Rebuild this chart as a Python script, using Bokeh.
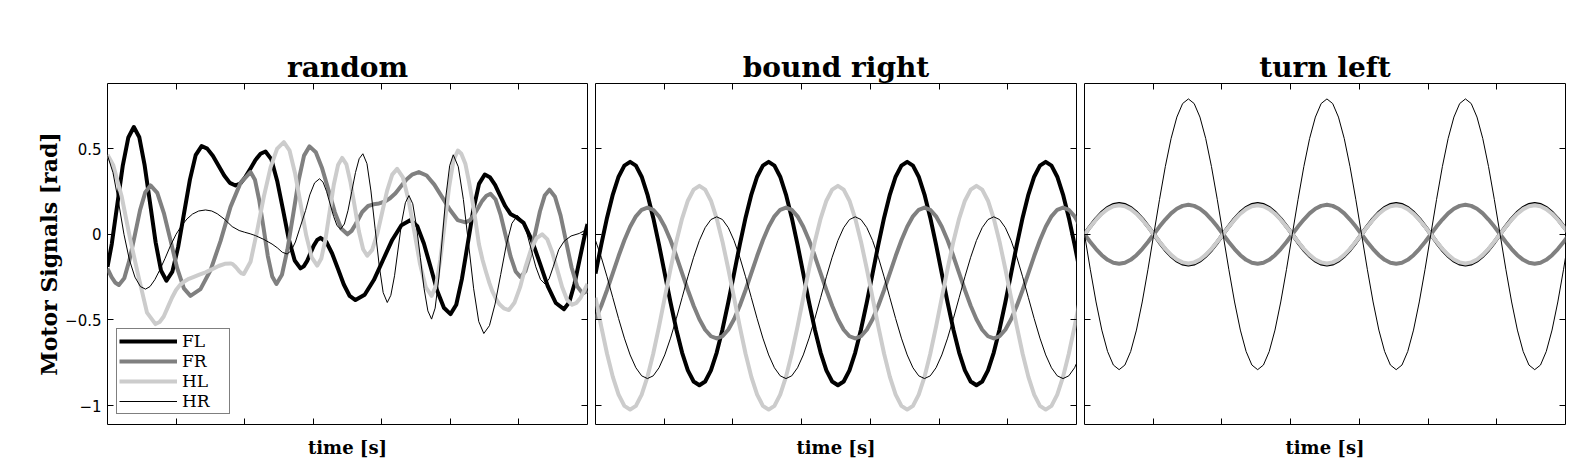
from bokeh.plotting import figure
from bokeh.models import Range1d, LinearAxis, FixedTicker, CustomJSTickFormatter, Legend, LegendItem
from bokeh.layouts import row
from bokeh.embed import file_html
from bokeh.resources import INLINE

# ---------------- data ----------------
NAMES = ["FL", "FR", "HL", "HR"]
TITLES = ["random", "bound right", "turn left"]
X_TICKS = [0.5, 1.0, 1.5, 2.0, 2.5, 3.0]
Y_TICKS = [-1, -0.5, 0, 0.5]
X_LABEL = "time [s]"
Y_LABEL = "Motor Signals [rad]"

# panel "random": each series has its own sample times
RND_FL_T = [0, 0.031, 0.071, 0.111, 0.152, 0.192,
            0.232, 0.271, 0.311, 0.351, 0.390, 0.43,
            0.473, 0.515, 0.558, 0.601, 0.643, 0.686,
            0.727, 0.768, 0.810, 0.851, 0.892, 0.933,
            0.970, 1.006, 1.043, 1.079, 1.116, 1.152,
            1.195, 1.237, 1.280, 1.322, 1.365, 1.407,
            1.431, 1.456, 1.480, 1.504, 1.529, 1.553,
            1.596, 1.638, 1.681, 1.723, 1.766, 1.808,
            1.875, 1.942, 2.009, 2.076, 2.143, 2.21,
            2.259, 2.307, 2.356, 2.404, 2.453, 2.501,
            2.543, 2.584, 2.626, 2.668, 2.709, 2.751,
            2.788, 2.826, 2.863, 2.900, 2.938, 2.975,
            3.034, 3.093, 3.152, 3.210, 3.269, 3.328,
            3.367, 3.405, 3.444, 3.483, 3.5]
RND_FL_V = [-0.19, -0.057, 0.171, 0.399, 0.565, 0.626,
            0.566, 0.402, 0.178, -0.047, -0.211, -0.271,
            -0.218, -0.075, 0.122, 0.319, 0.462, 0.515,
            0.500, 0.458, 0.400, 0.343, 0.300, 0.285,
            0.298, 0.335, 0.384, 0.434, 0.470, 0.483,
            0.437, 0.313, 0.142, -0.029, -0.153, -0.199,
            -0.187, -0.155, -0.110, -0.066, -0.033, -0.021,
            -0.045, -0.112, -0.203, -0.293, -0.360, -0.384,
            -0.353, -0.267, -0.150, -0.033, 0.053, 0.084,
            0.047, -0.054, -0.191, -0.329, -0.429, -0.466,
            -0.411, -0.262, -0.059, 0.145, 0.294, 0.349,
            0.333, 0.288, 0.226, 0.165, 0.119, 0.103,
            0.067, -0.032, -0.167, -0.302, -0.401, -0.437,
            -0.397, -0.290, -0.142, 0.006, 0.06]

RND_FR_T = [0, 0.03, 0.058, 0.083,
            0.122, 0.160, 0.199, 0.237, 0.276, 0.314,
            0.363, 0.411, 0.460, 0.508, 0.557, 0.605,
            0.678, 0.751, 0.824, 0.897, 0.970, 1.043,
            1.075, 1.106, 1.138, 1.169, 1.201, 1.232,
            1.272, 1.312, 1.353, 1.393, 1.433, 1.473,
            1.519, 1.565, 1.612, 1.658, 1.704, 1.75,
            1.78, 1.81, 1.857, 1.90, 1.94, 1.98, 2.02, 2.06, 2.10, 2.14, 2.18, 2.22, 2.27,
            2.327, 2.383, 2.44, 2.497, 2.553, 2.61,
            2.641, 2.671, 2.702, 2.732, 2.763, 2.793,
            2.830, 2.866, 2.903, 2.939, 2.976, 3.012,
            3.047, 3.082, 3.118, 3.153, 3.188, 3.223,
            3.263, 3.304, 3.344, 3.384, 3.425, 3.465,
            3.5]
RND_FR_V = [-0.20, -0.25, -0.283, -0.296,
            -0.257, -0.151, -0.006, 0.140, 0.246, 0.285,
            0.242, 0.124, -0.037, -0.198, -0.316, -0.359,
            -0.32, -0.21, -0.04, 0.16, 0.30, 0.363,
            0.319, 0.200, 0.037, -0.127, -0.246, -0.29,
            -0.236, -0.089, 0.112, 0.312, 0.459, 0.513,
            0.479, 0.385, 0.257, 0.128, 0.034, 0.0,
            0.02, 0.06, 0.13, 0.165, 0.175, 0.18, 0.19, 0.21, 0.24, 0.28, 0.32, 0.348, 0.363,
            0.343, 0.290, 0.217, 0.143, 0.083, 0.07,
            0.081, 0.112, 0.153, 0.195, 0.225, 0.236,
            0.203, 0.115, -0.007, -0.129, -0.217, -0.25,
            -0.216, -0.123, 0.005, 0.133, 0.226, 0.26,
            0.219, 0.109, -0.043, -0.194, -0.304, -0.345,
            -0.33]

RND_HL_T = [0, 0.042, 0.103, 0.165, 0.227, 0.288, 0.35,
            0.38, 0.41, 0.44, 0.47, 0.50, 0.53, 0.56, 0.593, 0.63, 0.67, 0.715, 0.76, 0.81, 0.855, 0.897,
            0.913, 0.929, 0.946, 0.962, 0.978, 0.994,
            1.043, 1.091, 1.14, 1.189, 1.237, 1.286,
            1.327, 1.367, 1.408, 1.448, 1.489, 1.529,
            1.559, 1.590, 1.620, 1.650, 1.681, 1.711,
            1.742, 1.772, 1.803, 1.833, 1.864, 1.894,
            1.930, 1.967, 2.003, 2.039, 2.076, 2.112,
            2.154, 2.196, 2.238, 2.279, 2.321, 2.363,
            2.395, 2.427, 2.459, 2.491, 2.523, 2.555,
            2.58, 2.61, 2.635, 2.66, 2.685, 2.708, 2.735, 2.76, 2.785, 2.805, 2.835, 2.86, 2.89, 2.927,
            2.967, 3.008, 3.048, 3.088, 3.129, 3.169,
            3.206, 3.242, 3.279, 3.315, 3.352, 3.388,
            3.42, 3.45, 3.475, 3.5]
RND_HL_V = [0.465, 0.403, 0.222, -0.027, -0.25, -0.457, -0.524,
            -0.512, -0.48, -0.425, -0.37, -0.325, -0.295, -0.275, -0.26, -0.248, -0.235, -0.222, -0.205, -0.185, -0.172, -0.17,
            -0.174, -0.186, -0.201, -0.217, -0.228, -0.232,
            -0.16, 0.02, 0.22, 0.39, 0.50, 0.538,
            0.490, 0.358, 0.178, -0.003, -0.135, -0.183,
            -0.141, -0.026, 0.132, 0.289, 0.404, 0.446,
            0.408, 0.303, 0.160, 0.018, -0.087, -0.125,
            -0.091, 0.002, 0.129, 0.255, 0.348, 0.382,
            0.332, 0.197, 0.012, -0.174, -0.309, -0.359,
            -0.302, -0.147, 0.065, 0.277, 0.432, 0.489,
            0.47, 0.41, 0.31, 0.20, 0.07, -0.057, -0.15, -0.22, -0.285, -0.33, -0.38, -0.41, -0.432, -0.442,
            -0.40, -0.31, -0.19, -0.09, -0.022, 0.0,
            -0.028, -0.103, -0.206, -0.308, -0.383, -0.411,
            -0.40, -0.37, -0.33, -0.29]

RND_HR_T = [0, 0.04, 0.08, 0.12, 0.16, 0.2, 0.24, 0.277,
            0.31, 0.345, 0.38, 0.42, 0.46, 0.50, 0.54, 0.58, 0.62, 0.665, 0.715,
            0.76, 0.80, 0.85, 0.909, 0.96, 1.0, 1.04, 1.08, 1.14, 1.2, 1.24, 1.275, 1.31,
            1.34, 1.37, 1.40, 1.444, 1.475, 1.51, 1.546,
            1.572, 1.597, 1.623, 1.649, 1.674, 1.70,
            1.727, 1.754, 1.781, 1.808, 1.835, 1.862,
            1.892, 1.921, 1.951, 1.981, 2.010, 2.04,
            2.066, 2.093, 2.119, 2.145, 2.172, 2.198,
            2.226, 2.253, 2.281, 2.308, 2.336, 2.363,
            2.389, 2.416, 2.442, 2.468, 2.495, 2.521,
            2.558, 2.595, 2.633, 2.670, 2.707, 2.744,
            2.785, 2.826, 2.867, 2.908, 2.949, 2.99,
            3.023, 3.057, 3.09, 3.123, 3.157, 3.19,
            3.22, 3.25, 3.29, 3.33, 3.38, 3.44, 3.5]
RND_HR_V = [0.46, 0.36, 0.19, 0.0, -0.15, -0.25, -0.305, -0.32,
            -0.305, -0.265, -0.21, -0.14, -0.065, 0.0, 0.05, 0.09, 0.118, 0.136, 0.142,
            0.136, 0.12, 0.09, 0.045, 0.022, 0.012, 0.003, -0.008, -0.03, -0.057, -0.08, -0.105, -0.115,
            -0.095, -0.045, 0.03, 0.138, 0.23, 0.30, 0.324,
            0.304, 0.251, 0.177, 0.104, 0.050, 0.03,
            0.060, 0.14, 0.25, 0.36, 0.441, 0.47,
            0.412, 0.253, 0.036, -0.181, -0.340, -0.398,
            -0.356, -0.242, -0.086, 0.070, 0.184, 0.226,
            0.178, 0.046, -0.135, -0.315, -0.447, -0.495,
            -0.431, -0.255, -0.016, 0.224, 0.400, 0.464,
            0.394, 0.203, -0.058, -0.318, -0.509, -0.579,
            -0.533, -0.407, -0.235, -0.062, 0.064, 0.11,
            0.083, 0.01, -0.09, -0.19, -0.263, -0.29,
            -0.26, -0.19, -0.09, -0.04, -0.01, 0.005, 0.03]

# periodic panels: common sample times
T_PER = [0.0, 0.042, 0.084, 0.126, 0.168, 0.21, 0.252, 0.294, 0.336, 0.378, 0.42, 0.462,
         0.504, 0.546, 0.588, 0.63, 0.672, 0.714, 0.756, 0.798, 0.84, 0.882, 0.924, 0.966,
         1.008, 1.05, 1.092, 1.134, 1.176, 1.218, 1.26, 1.302, 1.344, 1.386, 1.428, 1.47,
         1.512, 1.554, 1.596, 1.638, 1.68, 1.722, 1.764, 1.806, 1.848, 1.89, 1.932, 1.974,
         2.016, 2.058, 2.1, 2.142, 2.184, 2.226, 2.268, 2.31, 2.352, 2.394, 2.436, 2.478,
         2.52, 2.562, 2.604, 2.646, 2.688, 2.73, 2.772, 2.814, 2.856, 2.898, 2.94, 2.982,
         3.024, 3.066, 3.108, 3.15, 3.192, 3.234, 3.276, 3.318, 3.36, 3.402, 3.444, 3.486,
         3.528]

# "bound right"
BR_FL = [-0.229, -0.060, 0.097, 0.232, 0.336, 0.401,
         0.423, 0.401, 0.336, 0.232, 0.097, -0.060, -0.229, -0.398, -0.555, -0.690, -0.794, -0.859,
         -0.881, -0.859, -0.794, -0.690, -0.555, -0.398, -0.229, -0.060, 0.097, 0.232, 0.336, 0.401,
         0.423, 0.401, 0.336, 0.232, 0.097, -0.060, -0.229, -0.398, -0.555, -0.690, -0.794, -0.859,
         -0.881, -0.859, -0.794, -0.690, -0.555, -0.398, -0.229, -0.060, 0.097, 0.232, 0.336, 0.401,
         0.423, 0.401, 0.336, 0.232, 0.097, -0.060, -0.229, -0.398, -0.555, -0.690, -0.794, -0.859,
         -0.881, -0.859, -0.794, -0.690, -0.555, -0.398, -0.229, -0.060, 0.097, 0.232, 0.336, 0.401,
         0.423, 0.401, 0.336, 0.232, 0.097, -0.060, -0.229]
BR_FR = [-0.496, -0.417, -0.325, -0.226, -0.127, -0.035, 0.044, 0.105, 0.143,
         0.156, 0.143, 0.105, 0.044, -0.035, -0.127, -0.226, -0.325, -0.417, -0.496, -0.557, -0.595,
         -0.608, -0.595, -0.557, -0.496, -0.417, -0.325, -0.226, -0.127, -0.035, 0.044, 0.105, 0.143,
         0.156, 0.143, 0.105, 0.044, -0.035, -0.127, -0.226, -0.325, -0.417, -0.496, -0.557, -0.595,
         -0.608, -0.595, -0.557, -0.496, -0.417, -0.325, -0.226, -0.127, -0.035, 0.044, 0.105, 0.143,
         0.156, 0.143, 0.105, 0.044, -0.035, -0.127, -0.226, -0.325, -0.417, -0.496, -0.557, -0.595,
         -0.608, -0.595, -0.557, -0.496, -0.417, -0.325, -0.226, -0.127, -0.035, 0.044, 0.105, 0.143,
         0.156, 0.143, 0.105, 0.044]
BR_HL = [-0.370, -0.539, -0.697, -0.832, -0.936, -1.001, -1.023, -1.001, -0.936, -0.832, -0.697, -0.539,
         -0.370, -0.201, -0.043, 0.092, 0.196, 0.261,
         0.283, 0.261, 0.196, 0.092, -0.043, -0.201, -0.370, -0.539, -0.697, -0.832, -0.936, -1.001,
         -1.023, -1.001, -0.936, -0.832, -0.697, -0.539, -0.370, -0.201, -0.043, 0.092, 0.196, 0.261,
         0.283, 0.261, 0.196, 0.092, -0.043, -0.201, -0.370, -0.539, -0.697, -0.832, -0.936, -1.001,
         -1.023, -1.001, -0.936, -0.832, -0.697, -0.539, -0.370, -0.201, -0.043, 0.092, 0.196, 0.261,
         0.283, 0.261, 0.196, 0.092, -0.043, -0.201, -0.370, -0.539, -0.697, -0.832, -0.936, -1.001,
         -1.023, -1.001, -0.936, -0.832, -0.697, -0.539, -0.370]
BR_HR = [-0.036, -0.134, -0.248, -0.370, -0.492, -0.606, -0.704, -0.779, -0.826, -0.842, -0.826,
         -0.779, -0.704, -0.606, -0.492, -0.370, -0.248, -0.134, -0.036, 0.039, 0.086,
         0.102, 0.086, 0.039, -0.036, -0.134, -0.248, -0.370, -0.492, -0.606, -0.704, -0.779, -0.826,
         -0.842, -0.826, -0.779, -0.704, -0.606, -0.492, -0.370, -0.248, -0.134, -0.036, 0.039, 0.086,
         0.102, 0.086, 0.039, -0.036, -0.134, -0.248, -0.370, -0.492, -0.606, -0.704, -0.779, -0.826,
         -0.842, -0.826, -0.779, -0.704, -0.606, -0.492, -0.370, -0.248, -0.134, -0.036, 0.039, 0.086,
         0.102, 0.086, 0.039, -0.036, -0.134, -0.248, -0.370, -0.492, -0.606, -0.704, -0.779, -0.826,
         -0.842, -0.826, -0.779, -0.704]

# "turn left"
TL_FL = [0.0, 0.046, 0.089, 0.125, 0.153, 0.171,
         0.177, 0.171, 0.153, 0.125, 0.089, 0.046, 0.0, -0.046, -0.089, -0.125, -0.153, -0.171,
         -0.177, -0.171, -0.153, -0.125, -0.089, -0.046, 0.0, 0.046, 0.089, 0.125, 0.153, 0.171,
         0.177, 0.171, 0.153, 0.125, 0.089, 0.046, 0.0, -0.046, -0.089, -0.125, -0.153, -0.171,
         -0.177, -0.171, -0.153, -0.125, -0.089, -0.046, 0.0, 0.046, 0.089, 0.125, 0.153, 0.171,
         0.177, 0.171, 0.153, 0.125, 0.089, 0.046, 0.0, -0.046, -0.089, -0.125, -0.153, -0.171,
         -0.177, -0.171, -0.153, -0.125, -0.089, -0.046, 0.0, 0.046, 0.089, 0.125, 0.153, 0.171,
         0.177, 0.171, 0.153, 0.125, 0.089, 0.046, 0.0]
TL_FR = [0.0, -0.045, -0.086, -0.122, -0.149, -0.166, -0.172, -0.166, -0.149, -0.122, -0.086, -0.045,
         0.0, 0.045, 0.086, 0.122, 0.149, 0.166,
         0.172, 0.166, 0.149, 0.122, 0.086, 0.045, 0.0, -0.045, -0.086, -0.122, -0.149, -0.166,
         -0.172, -0.166, -0.149, -0.122, -0.086, -0.045, 0.0, 0.045, 0.086, 0.122, 0.149, 0.166,
         0.172, 0.166, 0.149, 0.122, 0.086, 0.045, 0.0, -0.045, -0.086, -0.122, -0.149, -0.166,
         -0.172, -0.166, -0.149, -0.122, -0.086, -0.045, 0.0, 0.045, 0.086, 0.122, 0.149, 0.166,
         0.172, 0.166, 0.149, 0.122, 0.086, 0.045, 0.0, -0.045, -0.086, -0.122, -0.149, -0.166,
         -0.172, -0.166, -0.149, -0.122, -0.086, -0.045, 0.0]
TL_HL = [0.0, 0.044, 0.085, 0.120, 0.147, 0.164,
         0.170, 0.164, 0.147, 0.120, 0.085, 0.044, 0.0, -0.044, -0.085, -0.120, -0.147, -0.164,
         -0.170, -0.164, -0.147, -0.120, -0.085, -0.044, 0.0, 0.044, 0.085, 0.120, 0.147, 0.164,
         0.170, 0.164, 0.147, 0.120, 0.085, 0.044, 0.0, -0.044, -0.085, -0.120, -0.147, -0.164,
         -0.170, -0.164, -0.147, -0.120, -0.085, -0.044, 0.0, 0.044, 0.085, 0.120, 0.147, 0.164,
         0.170, 0.164, 0.147, 0.120, 0.085, 0.044, 0.0, -0.044, -0.085, -0.120, -0.147, -0.164,
         -0.170, -0.164, -0.147, -0.120, -0.085, -0.044, 0.0, 0.044, 0.085, 0.120, 0.147, 0.164,
         0.170, 0.164, 0.147, 0.120, 0.085, 0.044, 0.0]
TL_HR = [0.0, -0.204, -0.395, -0.559, -0.684, -0.763, -0.790, -0.763, -0.684, -0.559, -0.395, -0.204,
         0.0, 0.204, 0.395, 0.559, 0.684, 0.763,
         0.790, 0.763, 0.684, 0.559, 0.395, 0.204, 0.0, -0.204, -0.395, -0.559, -0.684, -0.763,
         -0.790, -0.763, -0.684, -0.559, -0.395, -0.204, 0.0, 0.204, 0.395, 0.559, 0.684, 0.763,
         0.790, 0.763, 0.684, 0.559, 0.395, 0.204, 0.0, -0.204, -0.395, -0.559, -0.684, -0.763,
         -0.790, -0.763, -0.684, -0.559, -0.395, -0.204, 0.0, 0.204, 0.395, 0.559, 0.684, 0.763,
         0.790, 0.763, 0.684, 0.559, 0.395, 0.204, 0.0, -0.204, -0.395, -0.559, -0.684, -0.763,
         -0.790, -0.763, -0.684, -0.559, -0.395, -0.204, 0.0]

PANELS = [
    [(RND_FL_T, RND_FL_V), (RND_FR_T, RND_FR_V), (RND_HL_T, RND_HL_V), (RND_HR_T, RND_HR_V)],
    [(T_PER, BR_FL), (T_PER, BR_FR), (T_PER, BR_HL), (T_PER, BR_HR)],
    [(T_PER, TL_FL), (T_PER, TL_FR), (T_PER, TL_HL), (T_PER, TL_HR)],
]

COLORS = ["#000000", "#808080", "#cccccc", "#000000"]
WIDTHS = [4, 4, 4, 1]

X_MIN, X_MAX = 0.0, 3.5
Y_MIN, Y_MAX = -1.11, 0.88

SERIF = "DejaVu Serif"
SANS = "DejaVu Sans"


def blank_formatter():
    return CustomJSTickFormatter(code="return '';")


def style_axis(ax, ticks, with_labels):
    ax.ticker = FixedTicker(ticks=ticks)
    ax.major_tick_in = 6
    ax.major_tick_out = 0
    ax.major_tick_line_color = "black"
    ax.major_tick_line_width = 1
    ax.minor_tick_line_color = None
    ax.axis_line_color = None
    if with_labels:
        ax.formatter = CustomJSTickFormatter(
            code="return tick < 0 ? '\u2212' + String(-tick) : String(tick);")
        ax.major_label_text_font = SANS
        ax.major_label_text_font_size = "15px"
        ax.major_label_text_color = "black"
        ax.major_label_standoff = 6
    else:
        ax.formatter = blank_formatter()
        ax.major_label_text_font_size = "0px"
        ax.major_label_standoff = 0


def make_panel(idx, width, left, right):
    p = figure(width=width, height=464,
               x_range=Range1d(X_MIN, X_MAX), y_range=Range1d(Y_MIN, Y_MAX),
               output_backend="svg", toolbar_location=None,
               min_border_left=left, min_border_right=right,
               min_border_top=83, min_border_bottom=40)
    p.background_fill_color = "white"
    p.border_fill_color = "white"
    p.outline_line_color = "black"
    p.outline_line_width = 1
    p.xgrid.visible = False
    p.ygrid.visible = False

    p.title.text = TITLES[idx]
    p.title.align = "center"
    p.title.text_font = SERIF
    p.title.text_font_style = "bold"
    p.title.text_font_size = "28px"
    p.title.text_color = "black"
    p.title.standoff = 0

    style_axis(p.xaxis[0], X_TICKS, False)
    p.xaxis[0].axis_label = X_LABEL
    p.xaxis[0].axis_label_text_font = SERIF
    p.xaxis[0].axis_label_text_font_style = "bold"
    p.xaxis[0].axis_label_text_font_size = "18px"
    p.xaxis[0].axis_label_text_color = "black"
    p.xaxis[0].axis_label_standoff = 12

    style_axis(p.yaxis[0], Y_TICKS, idx == 0)
    if idx == 0:
        p.yaxis[0].axis_label = Y_LABEL
        p.yaxis[0].axis_label_text_font = SERIF
        p.yaxis[0].axis_label_text_font_style = "bold"
        p.yaxis[0].axis_label_text_font_size = "22px"
        p.yaxis[0].axis_label_text_color = "black"
        p.yaxis[0].axis_label_standoff = 0

    top = LinearAxis()
    style_axis(top, X_TICKS, False)
    p.add_layout(top, "above")
    rgt = LinearAxis()
    style_axis(rgt, Y_TICKS, False)
    p.add_layout(rgt, "right")

    renderers = []
    for (t, v), c, w in zip(PANELS[idx], COLORS, WIDTHS):
        r = p.line(t, v, line_color=c, line_width=w, line_join="round")
        renderers.append(r)

    if idx == 0:
        items = [LegendItem(label=n, renderers=[r]) for n, r in zip(NAMES, renderers)]
        leg = Legend(items=items, location=(9, 10), orientation="vertical")
        leg.border_line_color = "black"
        leg.border_line_width = 1
        leg.background_fill_color = "white"
        leg.background_fill_alpha = 1.0
        leg.padding = 2
        leg.spacing = 0
        leg.margin = 0
        leg.glyph_width = 58
        leg.glyph_height = 16
        leg.label_height = 16
        leg.label_width = 45
        leg.label_standoff = 5
        leg.label_text_font = SERIF
        leg.label_text_font_size = "17px"
        leg.label_text_color = "black"
        p.add_layout(leg)
    return p


p1 = make_panel(0, 591, 107, 4)
p2 = make_panel(1, 489, 4, 4)
p3 = make_panel(2, 501, 4, 16)

layout = row(p1, p2, p3)
open("out.html", "w").write(file_html(layout, INLINE))
